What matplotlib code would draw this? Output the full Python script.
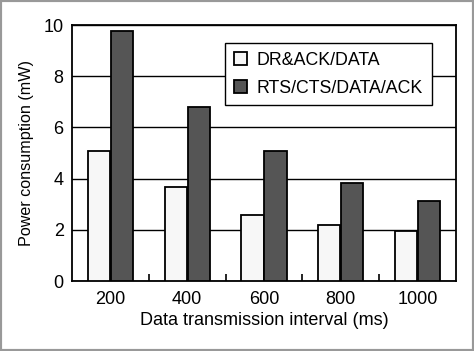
import matplotlib
matplotlib.use("Agg")
import matplotlib.pyplot as plt
import numpy as np

plt.rcParams['font.family'] = ['Liberation Sans', 'DejaVu Sans']

categories = ['200', '400', '600', '800', '1000']
dr_ack_data = [5.08, 3.67, 2.58, 2.19, 1.95]
rts_cts_data_ack = [9.77, 6.8, 5.08, 3.83, 3.13]
series_names = ['DR&ACK/DATA', 'RTS/CTS/DATA/ACK']
yticks = [0, 2, 4, 6, 8, 10]

fig = plt.figure(figsize=(4.74, 3.51), dpi=100)
fig.patch.set_facecolor('white')
ax = fig.add_axes([72/474, 1-281/351, (456-72)/474, (281-25)/351])

x = np.arange(len(categories))
w = 0.29
ax.bar(x - w/2 - 0.005, dr_ack_data, width=w, color='#f7f7f7', edgecolor='black', linewidth=1.3, label=series_names[0], zorder=3)
ax.bar(x + w/2 + 0.005, rts_cts_data_ack, width=w, color='#555555', edgecolor='black', linewidth=1.3, label=series_names[1], zorder=3)

ax.set_xlim(-0.5, len(categories) - 0.5)
ax.set_ylim(0, 10)
ax.set_yticks(yticks)
ax.set_yticklabels([str(v) for v in yticks], fontsize=13)
ax.tick_params(axis='y', length=0, pad=6)
ax.yaxis.grid(True, color='black', linewidth=1.0, zorder=0)
ax.set_axisbelow(True)

ax.set_xticks(x)
ax.set_xticklabels(categories, fontsize=13)
ax.tick_params(axis='x', length=0, pad=7)
ax.set_xticks(x[:-1] + 0.5, minor=True)
ax.tick_params(axis='x', which='minor', direction='in', length=5, width=1.2)

for s in ax.spines.values():
    s.set_linewidth(1.3)

ax.set_xlabel('Data transmission interval (ms)', fontsize=13, labelpad=3)
ax.set_ylabel('Power consumption (mW)', fontsize=11.6, labelpad=7)

leg = ax.legend(loc='upper right', bbox_to_anchor=((432-72)/384, (281-43)/256), fontsize=12.8, frameon=True, fancybox=False,
                edgecolor='black', handlelength=0.75, handleheight=0.75, handletextpad=0.55,
                borderpad=0.5, labelspacing=0.6, framealpha=1, borderaxespad=0)
leg.get_frame().set_linewidth(1.0)

# figure border
fig.add_artist(plt.Rectangle((0, 0), 1, 1, transform=fig.transFigure, fill=False, edgecolor='#999999', linewidth=3))

fig.savefig('out.png', dpi=100, facecolor='white')
